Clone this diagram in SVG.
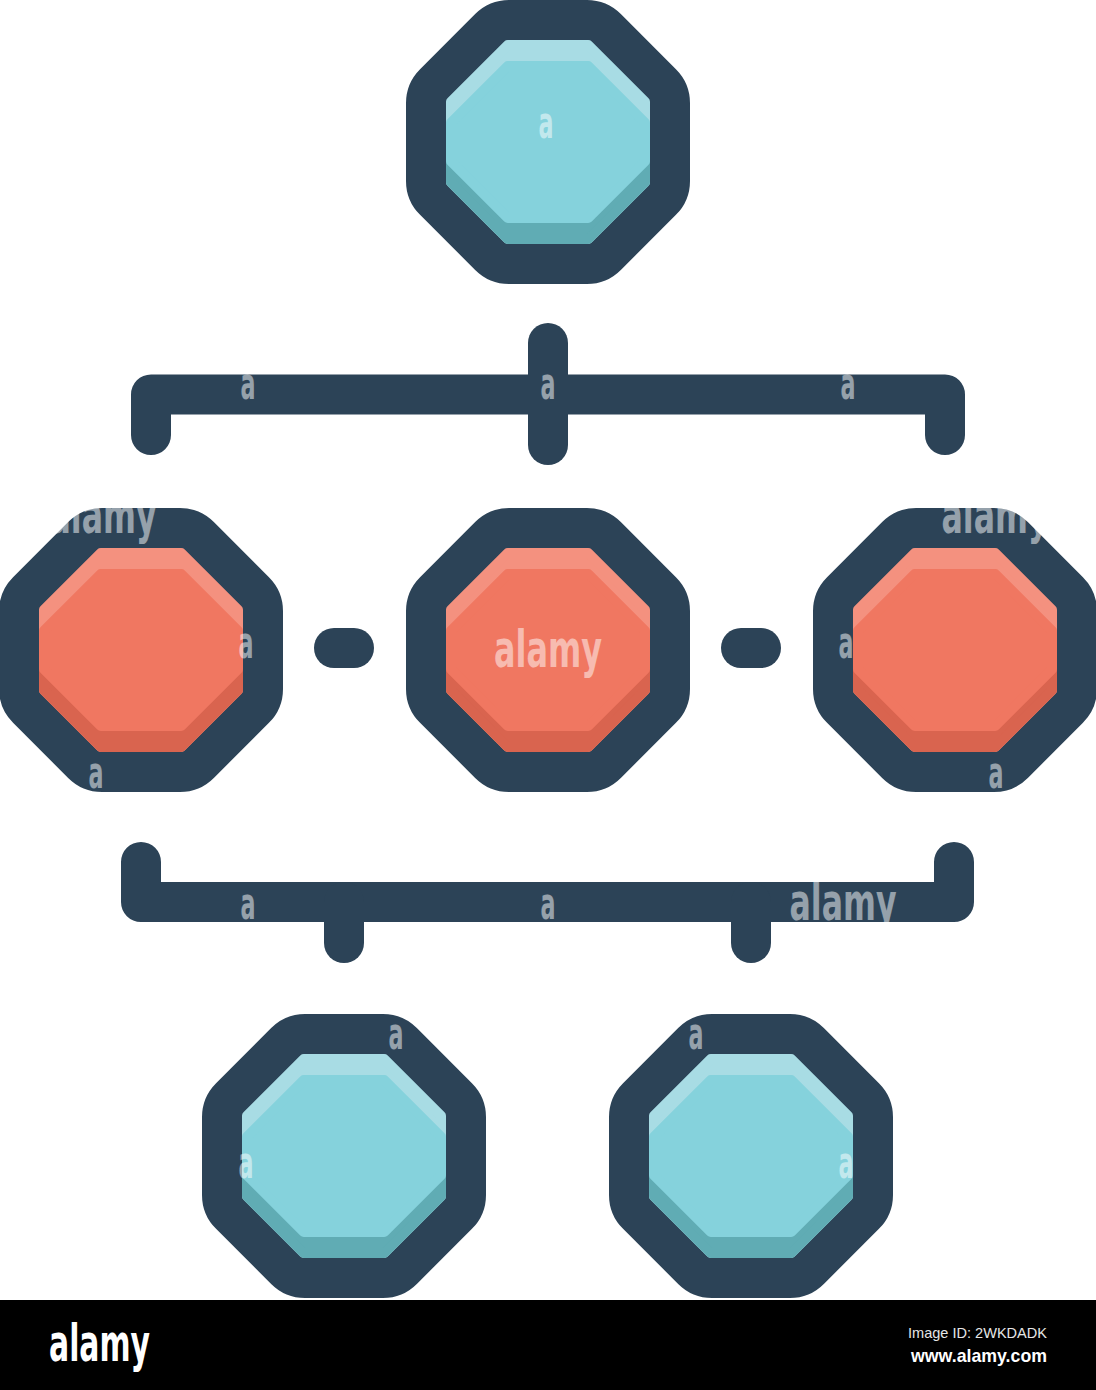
<svg xmlns="http://www.w3.org/2000/svg" xmlns:xlink="http://www.w3.org/1999/xlink" width="1096" height="1390" viewBox="0 0 1096 1390">
<style>
.ring{fill:#2C4357;stroke:#2C4357;stroke-width:96;stroke-linejoin:round}
.lay{stroke-width:10;stroke-linejoin:round}
.tl{fill:#A8DCE4;stroke:#A8DCE4}
.tf{fill:#85D2DC;stroke:#85D2DC}
.ts{fill:#60ACB4;stroke:#60ACB4}
.rl{fill:#F4917F;stroke:#F4917F}
.rf{fill:#F07761;stroke:#F07761}
.rs{fill:#D9644F;stroke:#D9644F}
.conn{fill:none;stroke:#2C4357;stroke-width:40;stroke-linecap:round;stroke-linejoin:round}
.wm{fill:#FFFFFF;fill-opacity:0.5;font-family:"DejaVu Sans Condensed","DejaVu Sans",sans-serif;font-weight:bold;text-anchor:middle}
.wa{font-size:44px}
.wb{font-size:51px}
</style>
<defs>
<polygon id="outer" points="-38.9,-94 38.9,-94 94,-38.9 94,38.9 38.9,94 -38.9,94 -94,38.9 -94,-38.9"/>
<polygon id="full" points="-40.2,-97 40.2,-97 97,-40.2 97,40.2 40.2,97 -40.2,97 -97,40.2 -97,-40.2"/>
<polygon id="low" points="-97,0 97,0 97,40.2 40.2,97 -40.2,97 -97,40.2"/>
<polygon id="face" points="-40.2,-76 40.2,-76 97,-19.2 97,19.2 40.2,76 -40.2,76 -97,19.2 -97,-19.2"/>
</defs>
<rect x="0" y="0" width="1096" height="1390" fill="#FFFFFF"/>
<g id="connectors">
<path class="conn" d="M151,435 V394.5 H945 V435"/>
<path class="conn" d="M548,343 V445"/>
<path class="conn" d="M334,648 H354"/>
<path class="conn" d="M741,648 H761"/>
<path class="conn" d="M141,862 V902 H954 V862"/>
<path class="conn" d="M344,902 V943"/>
<path class="conn" d="M751,902 V943"/>
</g>
<g id="node-top" transform="translate(548,142)">
<use xlink:href="#outer" class="ring"/>
<use xlink:href="#full" class="lay tl"/>
<use xlink:href="#low" class="lay ts"/>
<use xlink:href="#face" class="lay tf"/>
</g>
<g id="node-mid-left" transform="translate(141,650)">
<use xlink:href="#outer" class="ring"/>
<use xlink:href="#full" class="lay rl"/>
<use xlink:href="#low" class="lay rs"/>
<use xlink:href="#face" class="lay rf"/>
</g>
<g id="node-mid-center" transform="translate(548,650)">
<use xlink:href="#outer" class="ring"/>
<use xlink:href="#full" class="lay rl"/>
<use xlink:href="#low" class="lay rs"/>
<use xlink:href="#face" class="lay rf"/>
</g>
<g id="node-mid-right" transform="translate(955,650)">
<use xlink:href="#outer" class="ring"/>
<use xlink:href="#full" class="lay rl"/>
<use xlink:href="#low" class="lay rs"/>
<use xlink:href="#face" class="lay rf"/>
</g>
<g id="node-bottom-left" transform="translate(344,1156)">
<use xlink:href="#outer" class="ring"/>
<use xlink:href="#full" class="lay tl"/>
<use xlink:href="#low" class="lay ts"/>
<use xlink:href="#face" class="lay tf"/>
</g>
<g id="node-bottom-right" transform="translate(751,1156)">
<use xlink:href="#outer" class="ring"/>
<use xlink:href="#full" class="lay tl"/>
<use xlink:href="#low" class="lay ts"/>
<use xlink:href="#face" class="lay tf"/>
</g>
<g id="watermark">
<text class="wm wa" x="546" y="138" textLength="15" lengthAdjust="spacingAndGlyphs">a</text>
<text class="wm wa" x="248" y="399" textLength="15" lengthAdjust="spacingAndGlyphs">a</text>
<text class="wm wa" x="548" y="399" textLength="15" lengthAdjust="spacingAndGlyphs">a</text>
<text class="wm wa" x="848" y="399" textLength="15" lengthAdjust="spacingAndGlyphs">a</text>
<text class="wm wa" x="246" y="658" textLength="15" lengthAdjust="spacingAndGlyphs">a</text>
<text class="wm wa" x="846" y="658" textLength="15" lengthAdjust="spacingAndGlyphs">a</text>
<text class="wm wa" x="96" y="788" textLength="15" lengthAdjust="spacingAndGlyphs">a</text>
<text class="wm wa" x="996" y="788" textLength="15" lengthAdjust="spacingAndGlyphs">a</text>
<text class="wm wa" x="248" y="919" textLength="15" lengthAdjust="spacingAndGlyphs">a</text>
<text class="wm wa" x="548" y="919" textLength="15" lengthAdjust="spacingAndGlyphs">a</text>
<text class="wm wa" x="396" y="1049" textLength="15" lengthAdjust="spacingAndGlyphs">a</text>
<text class="wm wa" x="696" y="1049" textLength="15" lengthAdjust="spacingAndGlyphs">a</text>
<text class="wm wa" x="246" y="1178" textLength="15" lengthAdjust="spacingAndGlyphs">a</text>
<text class="wm wa" x="846" y="1178" textLength="15" lengthAdjust="spacingAndGlyphs">a</text>
<text class="wm wb" x="548" y="667" textLength="108" lengthAdjust="spacingAndGlyphs">alamy</text>
<text class="wm wb" x="103" y="533" textLength="107" lengthAdjust="spacingAndGlyphs">alamy</text>
<text class="wm wb" x="995" y="533" textLength="107" lengthAdjust="spacingAndGlyphs">alamy</text>
<text class="wm wb" x="843" y="920" textLength="107" lengthAdjust="spacingAndGlyphs">alamy</text>
</g>
<g id="footer">
<rect x="0" y="1300" width="1096" height="90" fill="#000000"/>
<text x="49" y="1361" font-family="DejaVu Sans Condensed,DejaVu Sans,sans-serif" font-weight="bold" font-size="52" fill="#FFFFFF" textLength="101" lengthAdjust="spacingAndGlyphs">alamy</text>
<text x="1047" y="1338" font-family="Liberation Sans Narrow,Liberation Sans,sans-serif" font-size="15" fill="#E6E6E6" text-anchor="end" textLength="139" lengthAdjust="spacingAndGlyphs">Image ID: 2WKDADK</text>
<text x="1047" y="1362" font-family="Liberation Sans Narrow,Liberation Sans,sans-serif" font-weight="bold" font-size="19" fill="#FFFFFF" text-anchor="end" textLength="136" lengthAdjust="spacingAndGlyphs">www.alamy.com</text>
</g>
</svg>
